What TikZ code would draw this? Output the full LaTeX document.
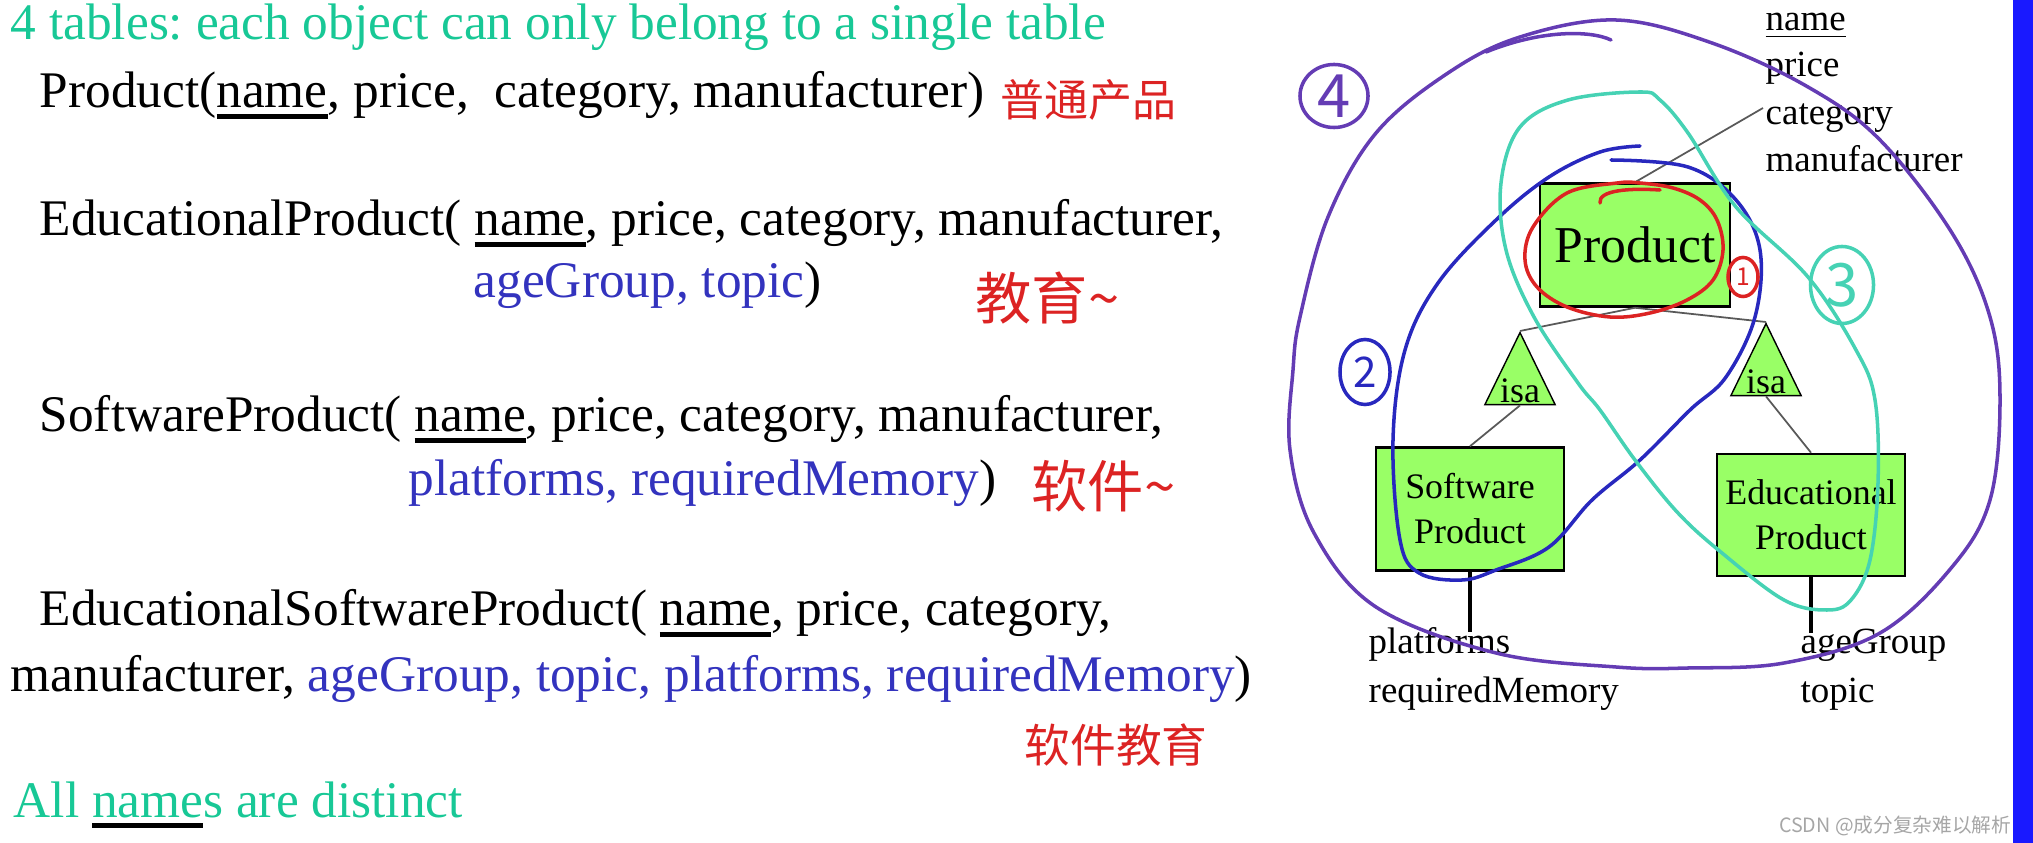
\documentclass[tikz,border=0pt]{standalone}
\usepackage{fontspec}
\setmainfont{Liberation Serif}
\newfontfamily\cjk{Noto Sans CJK SC}
\usepackage{xcolor}
\usepackage{graphicx}
\usetikzlibrary{shapes.geometric}
\definecolor{headgreen}{RGB}{24,200,150}
\definecolor{attrblue}{RGB}{51,51,190}
\definecolor{inkred}{RGB}{220,35,35}
\definecolor{inkpurple}{RGB}{100,60,180}
\definecolor{inkblue}{RGB}{40,40,190}
\definecolor{inkteal}{RGB}{70,210,180}
\definecolor{boxgreen}{RGB}{153,255,102}
\definecolor{barblue}{RGB}{25,25,255}
\frenchspacing
\newcommand\keyul[1]{\setbox0\hbox{#1}\rlap{\color{black}\rule[-3.2pt]{\wd0}{1.6pt}}\box0}
\tikzset{
  entity/.style={
    draw,
    rectangle,
    fill=boxgreen,
    line width=0.7pt,
    minimum width=1.88cm,
    minimum height=1.23cm,
    align=center,
    inner sep=1pt,
    font=\fontsize{10.2}{12.8}\selectfont
  },
  isabox/.style={
    draw,
    isosceles triangle,
    shape border rotate=90,
    isosceles triangle apex angle=52,
    fill=boxgreen,
    line width=0.4pt,
    inner sep=0.5pt,
    font=\fontsize{10.2}{12}\selectfont
  },
  attr/.style={
    anchor=base west,
    inner sep=0pt,
    font=\fontsize{10.5}{12}\selectfont
  },
  rowtext/.style={
    anchor=base west,
    inner sep=0pt,
    font=\fontsize{14.6}{17}\selectfont
  },
  hand/.style={
    anchor=west,
    inner sep=0pt,
    text=inkred
  },
  circled/.style={
    ellipse,
    draw,
    line width=1pt,
    inner sep=0pt
  },
  link/.style={
    draw=black!65,
    line width=0.5pt
  },
  stem/.style={
    draw=black,
    line width=1pt
  },
  ink/.style={
    line width=1pt,
    line cap=round,
    line join=round
  }
}
\begin{document}
\begin{tikzpicture}[x=0.01cm, y=-0.01cm]
  \useasboundingbox (0,0) rectangle (2033,843);

  \node[rowtext, text=headgreen] (title) at (10,40) {4 tables: each object can only belong to a single table};
  \node[rowtext] (rprod) at (39,108) {Product(\keyul{name}, price,\ \ category, manufacturer)};
  \node[rowtext] (redu) at (39,236) {EducationalProduct( \keyul{name}, price, category, manufacturer,};
  \node[rowtext] (redu2) at (473,298) {\textcolor{attrblue}{ageGroup, topic})};
  \node[rowtext] (rsoft) at (39,432) {SoftwareProduct( \keyul{name}, price, category, manufacturer,};
  \node[rowtext] (rsoft2) at (408,495) {\textcolor{attrblue}{platforms, requiredMemory})};
  \node[rowtext] (redsw) at (39,626) {EducationalSoftwareProduct( \keyul{name}, price, category,};
  \node[rowtext] (redsw2) at (10,691) {manufacturer, \textcolor{attrblue}{ageGroup, topic, platforms, requiredMemory})};
  \node[rowtext, text=headgreen] (distinct) at (13,817) {All \keyul{name}s are distinct};

  \node[hand, font=\cjk\fontsize{12.5}{13}\selectfont] (note1) at (1000,100) {普通产品};
  \node[hand, font=\cjk\fontsize{16}{16}\selectfont] (note2) at (975,298) {教育\textasciitilde};
  \node[hand, font=\cjk\fontsize{16}{16}\selectfont] (note3) at (1031,486) {软件\textasciitilde};
  \node[hand, font=\cjk\fontsize{13}{13}\selectfont] (note4) at (1024,745) {软件教育};

  \node[entity, font=\fontsize{14.7}{16}\selectfont, minimum width=1.9cm] (prod) at (1635,245) {Product};
  \node[isabox, anchor=apex] (isaL) at (1520,331) {isa};
  \node[isabox, anchor=apex] (isaR) at (1766,322) {isa};
  \node[entity] (soft) at (1470,509) {Software\\Product};
  \node[entity, minimum height=1.22cm] (edu) at (1811,515) {Educational\\Product};

  \node[attr] (aname) at (1765,31) {\underline{name}};
  \node[attr] (aprice) at (1765,77) {price};
  \node[attr] (acat) at (1765,125) {category};
  \node[attr] (amanu) at (1765,172) {manufacturer};
  \node[attr] (aplat) at (1368,653) {platforms};
  \node[attr] (amem) at (1368,702) {requiredMemory};
  \node[attr] (aage) at (1800,653) {ageGroup};
  \node[attr] (atopic) at (1800,702) {topic};

  \coordinate (attrtip) at (1763,108);
  \coordinate (softfoot) at (1470,632);
  \coordinate (edufoot) at (1811,633);

  \draw[link] (prod.north) -- (attrtip);
  \draw[link] (prod.south) -- (isaL.apex);
  \draw[link] (prod.south) -- (isaR.apex);
  \draw[link] (isaL.lower side) -- (soft.north);
  \draw[link] (isaR.lower side) -- (edu.north);
  \draw[stem] (soft.south) -- (softfoot);
  \draw[stem] (edu.south) -- (edufoot);

  \draw[ink, inkpurple] plot[smooth cycle, tension=0.6] coordinates {(1616,20) (1712,43) (1808,87) (1880,140) (1952,233) (1990,317) (2000,400) (1990,500) (1952,567) (1880,633) (1784,663) (1688,668) (1616,667) (1496,653) (1376,607) (1314,533) (1290,450) (1293,370) (1300,317) (1328,217) (1376,133) (1448,73) (1520,37)};
  \draw[ink, inkpurple] (1486,52) .. controls (1540,30) and (1590,30) .. (1611,40);
  \draw[ink, inkblue] plot[smooth, tension=0.6] coordinates {(1640,146) (1600,152) (1549,177) (1496,220) (1438,283) (1405,350) (1393,440) (1400,540) (1419,573) (1462,580) (1496,570) (1549,547) (1592,500) (1640,460) (1690,410) (1726,377) (1755,317) (1760,250) (1736,200) (1688,167) (1611,160)};
  \draw[ink, inkteal] plot[smooth cycle, tension=0.6] coordinates {(1640,92) (1568,100) (1520,127) (1501,183) (1506,250) (1534,317) (1578,383) (1600,410) (1635,460) (1678,513) (1722,553) (1784,600) (1827,610) (1851,600) (1870,560) (1878,483) (1875,400) (1856,350) (1808,277) (1736,207) (1688,133) (1660,100)};
  \draw[ink, inkred] plot[smooth cycle, tension=0.6] coordinates {(1617,183) (1567,193) (1533,227) (1525,260) (1537,287) (1567,307) (1610,317) (1650,313) (1687,300) (1713,280) (1723,250) (1717,220) (1700,200) (1673,188) (1640,183)};
  \draw[ink, inkred] (1600,203) .. controls (1598,190) and (1630,188) .. (1660,190);

  \node[circled, draw=inkpurple, text=inkpurple, font=\cjk\fontsize{17}{17}\selectfont, minimum width=0.68cm, minimum height=0.63cm] (num4) at (1334,96) {4};
  \node[circled, draw=inkblue, text=inkblue, font=\cjk\fontsize{12}{12}\selectfont, minimum width=0.5cm, minimum height=0.65cm] (num2) at (1365,372) {2};
  \node[circled, draw=inkteal, text=inkteal, font=\cjk\fontsize{17}{17}\selectfont, minimum width=0.63cm, minimum height=0.77cm] (num3) at (1842,285) {3};
  \node[circled, draw=inkred, text=inkred, font=\cjk\fontsize{7}{7}\selectfont, minimum width=0.3cm, minimum height=0.39cm] (num1) at (1743,277) {1};

  \fill[barblue] (2013,0) rectangle (2033,843);
  \node[anchor=base east, inner sep=0pt, font=\cjk\fontsize{5.6}{6}\selectfont, text=black!35] (mark) at (2012,832) {CSDN @成分复杂难以解析};
\end{tikzpicture}
\end{document}
